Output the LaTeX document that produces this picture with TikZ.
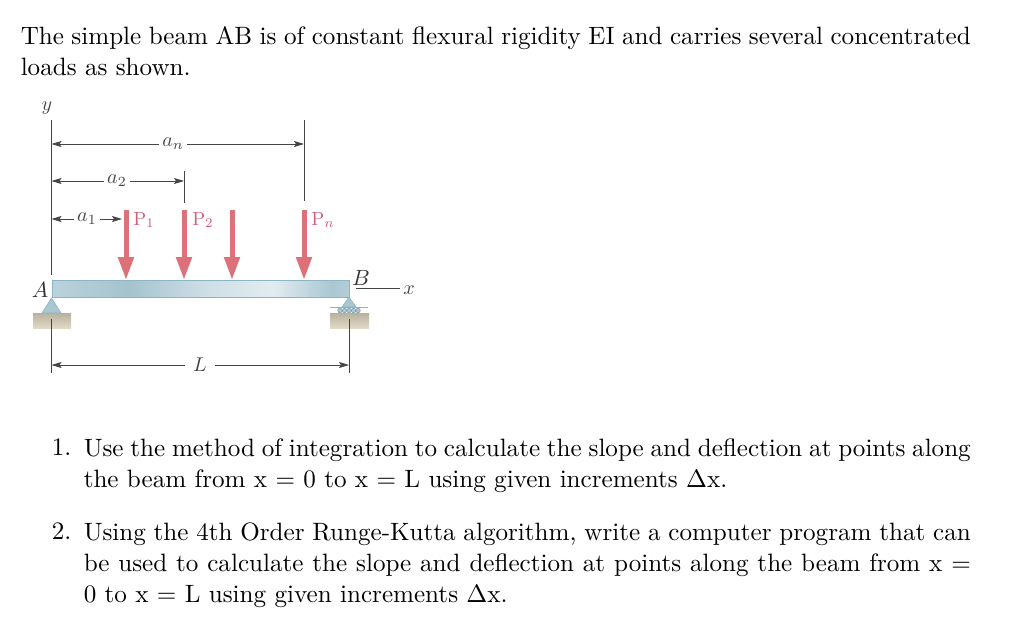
\documentclass[tikz,border=0pt]{standalone}
\usepackage{amsmath}
\usepackage{amssymb}
\usepackage{xcolor}
\usetikzlibrary{arrows,arrows.meta,positioning,calc}
\definecolor{dimgray}{HTML}{454545}
\definecolor{loadred}{HTML}{DC7179}
\definecolor{loadtext}{HTML}{CF5F78}
\definecolor{beamedge}{HTML}{8DB4C3}
\definecolor{pinblue}{HTML}{A9C6D1}
\definecolor{groundtan}{HTML}{D9D0B8}
\pgfdeclarehorizontalshading{beamshade}{100bp}{
	color(0bp)=(beamedge!55!white);
	color(25bp)=(beamedge!60!white);
	color(38bp)=(beamedge!80!white);
	color(50bp)=(beamedge!45!white);
	color(62bp)=(beamedge!25!white);
	color(72bp)=(beamedge!75!white);
	color(85bp)=(beamedge!35!white);
	color(100bp)=(beamedge!70!white)}

\begin{document}
\begin{tikzpicture}[x=1pt, y=-1pt, >={Stealth[length=10pt,width=6pt,inset=2pt]}, semithick]
	\tikzstyle{para}=[anchor=north west,inner sep=0pt,align=justify,scale=2.51,transform shape,font=\fontsize{10}{12.35}\selectfont]
	\tikzstyle{dimline}=[draw=dimgray,thick]
	\tikzstyle{dimlabel}=[text=dimgray,inner sep=0pt,scale=2,transform shape,font=\fontsize{10}{12}\selectfont]
	\tikzstyle{pointlabel}=[text=black!80,inner sep=0pt,scale=2.2,transform shape,font=\fontsize{10}{12}\selectfont]
	\tikzstyle{load}=[draw=loadred,line width=5pt,-{Stealth[length=23pt,width=15pt,inset=0pt]}]
	\tikzstyle{loadlabel}=[text=loadtext,inner sep=0pt,scale=1.9,transform shape,font=\fontsize{10}{12}\selectfont]
	\tikzstyle{ground}=[top color=groundtan!85!black,bottom color=groundtan!80!white,draw=none,inner sep=0pt,minimum height=15pt]
	\useasboundingbox (0,0) rectangle (1024,624);
	% text
	\node[para,text width=378.5pt] (intro) at (20,25.5) {The simple beam AB is of constant flexural rigidity EI and carries several concentrated\linebreak loads as shown.};
	\node[para] (numa) at (51,438.5) {1.};
	\node[para,text width=353.4pt] (itema) at (83,438.5) {Use the method of integration to calculate the slope and deflection at points along\linebreak the beam from x $=$ 0 to x $=$ L using given increments $\Delta$x.};
	\node[para] (numb) at (51,522.5) {2.};
	\node[para,text width=353.4pt] (itemb) at (83,522.5) {Using the 4th Order Runge-Kutta algorithm, write a computer program that can\linebreak be used to calculate the slope and deflection at points along the beam from x $=$\linebreak 0 to x $=$ L using given increments $\Delta$x.};
	% supports
	\node[ground,minimum width=38pt] (groundA) at (52,320.5) {};
	\node[ground,minimum width=39pt] (groundB) at (349.5,320.5) {};
	\draw[draw=beamedge,fill=pinblue] (51.5,298) -- (42,313) -- (61,313) -- cycle;
	\draw[draw=beamedge,fill=pinblue] (349,297) -- (342,307) -- (356,307) -- cycle;
	\draw[draw=beamedge] (330,307) -- (368,307);
	\foreach \x in {340,344.5,349,353.5,358}
		\draw[draw=beamedge!80!black,fill=pinblue,thin] (\x,310.5) circle (2.3);
	% beam
	\node[draw=beamedge,thick,minimum width=297pt,minimum height=17pt,inner sep=0pt,shading=beamshade,anchor=north west] (beam) at (52,280) {};
	% axes
	\node[dimlabel] (ylabel) at (47,108) {$y$};
	\node[pointlabel] (Alabel) at (40,290) {$A$};
	\node[pointlabel] (Blabel) at (361,278) {$B$};
	\node[dimlabel] (xlabel) at (409,290) {$x$};
	\coordinate (ytop) at (51.5,120);
	\coordinate (ybot) at (51.5,275);
	\coordinate (ylow) at (51.5,319);
	\coordinate (yend) at (51.5,373);
	\coordinate (rlow) at (349,319);
	\coordinate (rend) at (349,373);
	\coordinate (xstart) at (356,288);
	\coordinate (xend) at (400,288);
	\draw[dimline] (ytop) -- (ybot);
	\draw[dimline] (ylow) -- (yend);
	\draw[dimline] (rlow) -- (rend);
	\draw[dimline] (xstart) -- (xend);
	% extension lines
	\coordinate (antop) at (304,120);
	\coordinate (anbot) at (304,201);
	\coordinate (atop) at (184,171);
	\coordinate (abot) at (184,203);
	\draw[dimline] (antop) -- (anbot);
	\draw[dimline] (atop) -- (abot);
	% dimensions
	\node[dimlabel] (an) at (173,144) {$a_n$};
	\node[dimlabel] (a2) at (117,181) {$a_2$};
	\node[dimlabel] (a1) at (87,219) {$a_1$};
	\node[dimlabel] (L) at (200,365) {$L$};
	\draw[dimline,->] ($(an.west)+(-3,0)$) -- (ytop |- an);
	\draw[dimline,->] ($(an.east)+(3,0)$) -- (antop |- an);
	\draw[dimline,->] ($(a2.west)+(-3,0)$) -- (ytop |- a2);
	\draw[dimline,->] ($(a2.east)+(3,0)$) -- (atop |- a2);
	\draw[dimline,->] ($(a1.west)+(-3,0)$) -- (ytop |- a1);
	\draw[dimline,->] ($(a1.east)+(3,0)$) -- (122,219);
	\draw[dimline,->] ($(L.west)+(-8,0)$) -- (ytop |- L);
	\draw[dimline,->] ($(L.east)+(8,0)$) -- (rlow |- L);
	% loads
	\foreach \x in {126,184,232,304}{
		\coordinate (top\x) at (\x,210);
		\coordinate (tip\x) at (\x,280);
		\draw[load] (top\x) -- (tip\x);
	}
	\node[loadlabel] (P1) at (144,220) {P$_1$};
	\node[loadlabel] (P2) at (203,220) {P$_2$};
	\node[loadlabel] (Pn) at (323,220) {P$_n$};
\end{tikzpicture}
\end{document}
